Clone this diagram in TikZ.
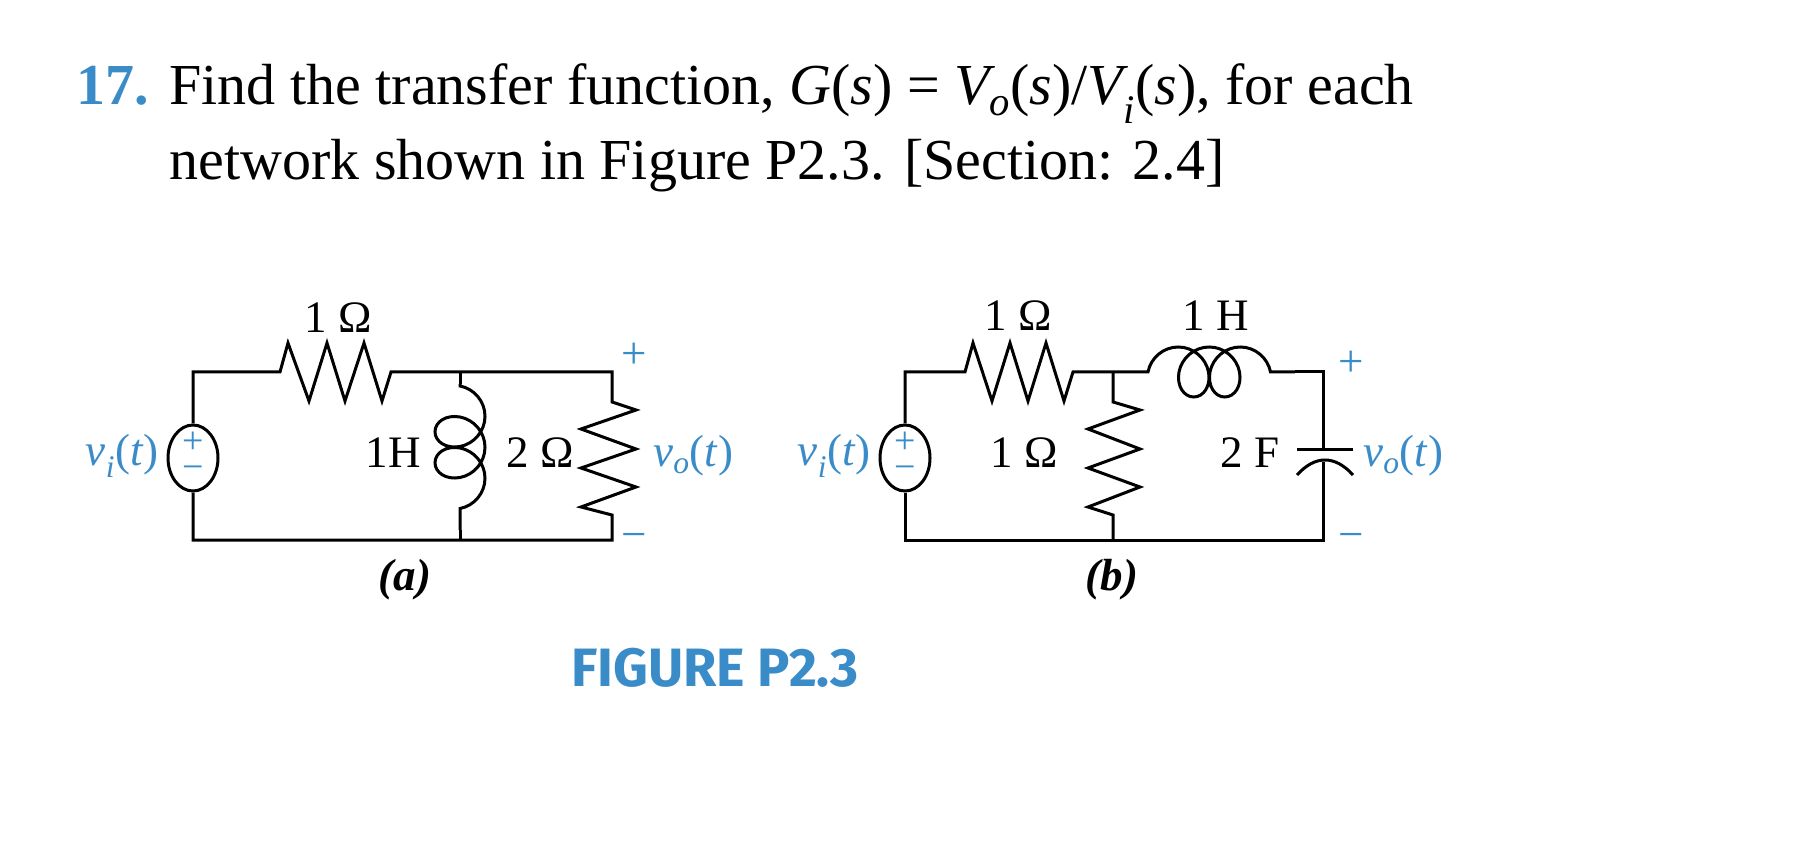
\documentclass[tikz,border=0pt]{standalone}
\usepackage{fontspec}
\setmainfont{Liberation Serif}
\newfontfamily\figfont{Fira Sans}
\usetikzlibrary{decorations.pathmorphing,shapes.geometric}
\definecolor{bl}{RGB}{58,140,200}
\begin{document}
\begin{tikzpicture}[x=1pt,y=-1pt,line width=3pt,
  lbl/.style={inner sep=0pt,font=\fontsize{45}{45}\selectfont},
  blbl/.style={lbl,text=bl},
  coilh/.style={decorate,decoration={coil,aspect=0.9,amplitude=25,segment length=31,pre length=2,post length=2}},
  src/.style={draw,ellipse,minimum width=50,minimum height=66,inner sep=0pt}]
\useasboundingbox (0,0) rectangle (1816,858);
\fill[white] (0,0) rectangle (1816,858);
% title
\node[anchor=base west,inner sep=0pt,text=bl,font=\fontsize{58}{58}\selectfont\bfseries] (num) at (75,105) {17.};
\node[anchor=base west,inner sep=0pt,font=\fontsize{58}{58}\selectfont] (t1) at (168,105) {Find the transfer function, \textit{G}(\textit{s}) = \textit{V\textsubscript{o}}(\textit{s})/\textit{V\textsubscript{i}}(\textit{s}), for each};
\node[anchor=base west,inner sep=0pt,font=\fontsize{58}{58}\selectfont] (t2) at (168,180) {network shown in Figure P2.3. [Section: 2.4]};
% ---------- circuit (a)
\node[src] (sa) at (193,458) {};
\node[text=bl,inner sep=0pt,font=\fontsize{38}{38}\selectfont] (sap) at (193,443) {+};
\node[text=bl,inner sep=0pt,font=\fontsize{38}{38}\selectfont] (sam) at (193,473) {\textminus};
\coordinate (a1) at (193,372); \coordinate (a2) at (193,540);
\coordinate (aj) at (460,372); \coordinate (ajb) at (460,540);
\coordinate (ar) at (612,372); \coordinate (arb) at (612,540);
\draw (sa.north) -- (a1) -- (280,372) -- (288,343) -- (309,401) -- (327,343) -- (345,401) -- (364,343) -- (382,401) -- (391,372) -- (aj) -- (ar)
  -- (612,402) -- (636,410) -- (581,429) -- (636,449) -- (581,468) -- (636,487) -- (581,507) -- (612,515) -- (arb) -- (ajb) -- (a2) -- (sa.south);
\draw (aj) -- (460,384);
\draw[coilh] (460,384) -- (460,530);
\draw (460,530) -- (ajb);
\node[lbl] (ra) at (338,318) {1 Ω};
\node[lbl] (la) at (393,453) {1H};
\node[lbl] (r2a) at (540,453) {2 Ω};
\node[blbl] (ap) at (634,356) {+};
\node[blbl] (am) at (634,541) {\textminus};
\node[blbl,anchor=east] (via) at (160,456) {\textit{v\textsubscript{i}}(\textit{t})};
\node[blbl,anchor=west] (voa) at (652,456) {\textit{v\textsubscript{o}}(\textit{t})};
\node[lbl,font=\fontsize{45}{45}\selectfont\bfseries\itshape] (ca) at (405,580) {(a)};
% ---------- circuit (b)
\node[src] (sb) at (905,458) {};
\node[text=bl,inner sep=0pt,font=\fontsize{38}{38}\selectfont] (sbp) at (905,443) {+};
\node[text=bl,inner sep=0pt,font=\fontsize{38}{38}\selectfont] (sbm) at (905,473) {\textminus};
\coordinate (b1) at (905,372); \coordinate (b2) at (905,540);
\coordinate (bj) at (1113,372); \coordinate (bjb) at (1113,540);
\coordinate (br) at (1323,372); \coordinate (brb) at (1323,540);
\draw (sb.north) -- (b1) -- (965,372) -- (973,343) -- (992,401) -- (1010,343) -- (1028,401) -- (1046,343) -- (1064,401) -- (1073,372) -- (bj) -- (1146,372);
\draw[coilh] (1146,372) -- (1295,372);
\draw (1295,372) -- (br) -- (1323,450);
\draw (1297,450) -- (1353,450);
\draw (1297,475) .. controls (1315,455) and (1335,455) .. (1353,475);
\draw (1323,462) -- (brb) -- (bjb) -- (b2) -- (sb.south);
\draw (bj) -- (1113,402) -- (1140,410) -- (1088,429) -- (1140,449) -- (1088,468) -- (1140,487) -- (1088,507) -- (1113,515) -- (bjb);
\node[lbl] (rb) at (1018,316) {1 Ω};
\node[lbl] (lb) at (1216,316) {1 H};
\node[lbl] (rb2) at (1024,453) {1 Ω};
\node[lbl] (cb) at (1250,453) {2 F};
\node[blbl] (bp) at (1351,364) {+};
\node[blbl] (bm) at (1351,541) {\textminus};
\node[blbl,anchor=east] (vib) at (872,456) {\textit{v\textsubscript{i}}(\textit{t})};
\node[blbl,anchor=west] (vob) at (1362,456) {\textit{v\textsubscript{o}}(\textit{t})};
\node[lbl,font=\fontsize{45}{45}\selectfont\bfseries\itshape] (cbl) at (1112,580) {(b)};
\node[inner sep=0pt,text=bl,font=\figfont\fontsize{54}{54}\selectfont\bfseries] (fig) at (715,668) {FIGURE P2.3};
\end{tikzpicture}
\end{document}
